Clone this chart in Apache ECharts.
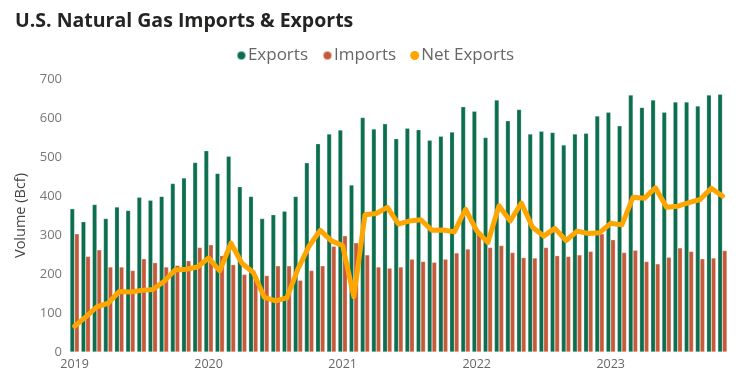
<!DOCTYPE html>
<html>
<head>
<meta charset="utf-8">
<script src="https://cdn.jsdelivr.net/npm/echarts@6/dist/echarts.min.js"></script>
<style>
html,body{margin:0;padding:0;background:#fff;}
#c{width:750px;height:377px;}
</style>
</head>
<body>
<div id="c"></div>
<script>
const months = [
 '2019-01','2019-02','2019-03','2019-04','2019-05','2019-06','2019-07','2019-08','2019-09','2019-10','2019-11','2019-12',
 '2020-01','2020-02','2020-03','2020-04','2020-05','2020-06','2020-07','2020-08','2020-09','2020-10','2020-11','2020-12',
 '2021-01','2021-02','2021-03','2021-04','2021-05','2021-06','2021-07','2021-08','2021-09','2021-10','2021-11','2021-12',
 '2022-01','2022-02','2022-03','2022-04','2022-05','2022-06','2022-07','2022-08','2022-09','2022-10','2022-11','2022-12',
 '2023-01','2023-02','2023-03','2023-04','2023-05','2023-06','2023-07','2023-08','2023-09','2023-10','2023-11'
];
const exportsVol = [
 367,334,378,342,372,363,397,389,399,432,446,486,
 516,458,502,424,399,342,352,361,399,485,534,559,
 569,428,601,572,585,547,574,570,543,553,564,629,
 617,550,646,593,622,559,566,563,531,559,561,605,
 615,580,659,627,646,615,641,641,631,659,661
];
const importsVol = [
 303,245,262,218,218,209,239,229,218,222,234,268,
 275,247,224,199,195,196,221,221,184,209,221,271,
 298,280,249,218,215,218,238,232,230,238,254,264,
 303,268,273,255,242,241,268,247,245,249,258,303,
 288,255,261,232,226,243,267,258,239,241,260
];
const netExports = [
 66,90,116,125,155,154,158,160,181,210,212,218,
 241,208,279,227,204,140,131,139,213,272,312,285,
 273,142,352,355,371,328,336,339,312,313,308,366,
 311,281,375,336,382,320,297,317,286,310,304,306,
 330,326,397,394,421,371,374,383,391,420,400
];
const yTicks = [0,100,200,300,400,500,600,700];

const chart = echarts.init(document.getElementById('c'), null, {renderer:'canvas'});
chart.setOption({
  animation:false,
  backgroundColor:'#ffffff',
  title:{
    text:'U.S. Natural Gas Imports & Exports',
    left:10, top:6,
    textStyle:{fontFamily:'Open Sans', fontWeight:'bold', fontSize:19.5, color:'#252423'}
  },
  legend:{
    data:['Exports','Imports','Net Exports'],
    top:42, left:'center',
    icon:'circle', itemWidth:9, itemHeight:9, itemGap:14,
    textStyle:{fontFamily:'Open Sans', fontSize:17, color:'#666666', padding:[0,0,0,-3]}
  },
  grid:{left:69, right:22, top:79, bottom:25, containLabel:false},
  xAxis:{
    type:'category',
    data:months,
    boundaryGap:true,
    axisLine:{show:false},
    axisTick:{show:false},
    axisLabel:{
      interval:function(i,v){return v.slice(5)==='01';},
      formatter:function(v){return v.slice(0,4);},
      color:'#666666', fontFamily:'Open Sans', fontSize:12.5, margin:6
    }
  },
  yAxis:{
    type:'value',
    min:yTicks[0], max:yTicks[yTicks.length-1], interval:100,
    name:'Volume (Bcf)',
    nameLocation:'middle', nameGap:38, nameRotate:90,
    nameTextStyle:{fontFamily:'Open Sans', fontSize:14.5, color:'#444444'},
    splitLine:{show:false},
    axisLine:{show:false},
    axisTick:{show:false},
    axisLabel:{color:'#777777', fontFamily:'Open Sans', fontSize:13, margin:7}
  },
  series:[
    {name:'Exports', type:'bar', data:exportsVol, barWidth:4.6, barGap:'0%',
     itemStyle:{color:'#0B6E4F', borderColor:'rgba(255,255,255,0.5)', borderWidth:0.5}},
    {name:'Imports', type:'bar', data:importsVol, barWidth:4.6, barGap:'0%',
     itemStyle:{color:'#C55A3A', borderColor:'rgba(255,255,255,0.5)', borderWidth:0.5}},
    {name:'Net Exports', type:'line', data:netExports, symbol:'none', z:5,
     lineStyle:{color:'#FFA500', width:5, join:'round', cap:'round'},
     itemStyle:{color:'#FFA500'}}
  ]
});
</script>
</body>
</html>
